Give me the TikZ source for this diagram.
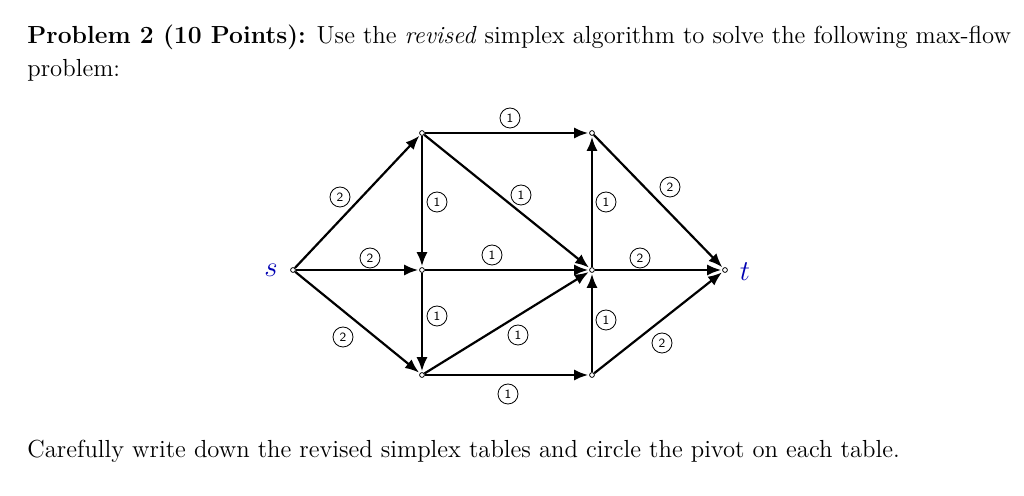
\documentclass[tikz,border=0pt]{standalone}
\usetikzlibrary{arrows.meta}
\begin{document}
\begin{tikzpicture}[x=0.5pt,y=-0.5pt,
  v/.style={circle,draw,fill=white,inner sep=0pt,minimum size=2.4pt,line width=0.4pt},
  e/.style={line width=1.1pt,-{Latex[length=7pt,width=5.5pt]},shorten >=0.5pt},
  lab/.style={circle,draw,inner sep=0pt,minimum size=10pt,font=\sffamily\fontsize{6.3}{7}\selectfont,line width=0.4pt},
  txt/.style={anchor=base west,inner sep=0pt,font=\fontsize{12.35}{14}\selectfont}]
\useasboundingbox (0,0) rectangle (1024,496);
\node[txt] (t1) at (27,44) {\textbf{Problem 2 (10 Points):} Use the \textit{revised} simplex algorithm to solve the following max-flow};
\node[txt] (t2) at (27,77) {problem:};
\node[txt] (t3) at (27,458) {Carefully write down the revised simplex tables and circle the pivot on each table.};
\node[v] (s) at (293,270) {};
\node[v] (a) at (422,133) {};
\node[v] (b) at (422,270) {};
\node[v] (c) at (422,375) {};
\node[v] (d) at (592,133) {};
\node[v] (m) at (592,270) {};
\node[v] (f) at (592,375) {};
\node[v] (t) at (725,270) {};
\node[text=blue!70!black,font=\fontsize{15}{16}\selectfont] (sl) at (271,270) {$s$};
\node[text=blue!70!black,font=\fontsize{15}{16}\selectfont] (tl) at (745,272) {$t$};
\draw[e] (s) -- (a); \draw[e] (s) -- (b); \draw[e] (s) -- (c);
\draw[e] (a) -- (d); \draw[e] (a) -- (b); \draw[e] (a) -- (m);
\draw[e] (b) -- (m); \draw[e] (b) -- (c); \draw[e] (c) -- (m);
\draw[e] (c) -- (f); \draw[e] (d) -- (t); \draw[e] (m) -- (d);
\draw[e] (m) -- (t); \draw[e] (f) -- (m); \draw[e] (f) -- (t);
\node[lab] (l1) at (340,197) {2};
\node[lab] (l2) at (370,258) {2};
\node[lab] (l3) at (343,337) {2};
\node[lab] (l4) at (510,118) {1};
\node[lab] (l5) at (437,202) {1};
\node[lab] (l6) at (521,195) {1};
\node[lab] (l7) at (492,255) {1};
\node[lab] (l8) at (437,316) {1};
\node[lab] (l9) at (518,335) {1};
\node[lab] (l10) at (508,394) {1};
\node[lab] (l11) at (606,202) {1};
\node[lab] (l12) at (670,187) {2};
\node[lab] (l13) at (640,258) {2};
\node[lab] (l14) at (606,320) {1};
\node[lab] (l15) at (662,343) {2};
\end{tikzpicture}
\end{document}
